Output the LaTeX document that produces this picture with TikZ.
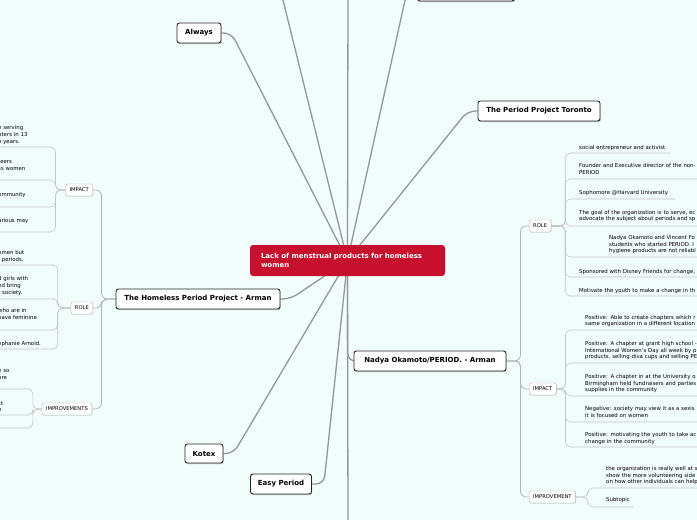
\documentclass[tikz,border=0pt]{standalone}
\usepackage{fontspec}
\setmainfont{DejaVu Sans}
\usetikzlibrary{positioning,shadows,calc}

\definecolor{paper}{RGB}{241,253,251}
\definecolor{topicred}{RGB}{198,16,46}
\definecolor{trunkgray}{RGB}{150,150,150}
\definecolor{branchgray}{RGB}{180,180,180}
\definecolor{twiggray}{RGB}{198,198,198}

\pgfdeclarelayer{bg}
\pgfdeclarelayer{wires}
\pgfsetlayers{bg,wires,main}

\begin{document}
\begin{tikzpicture}[
    x=1pt, y=-1pt,
    central/.style={fill=topicred, rounded corners=3pt, text=white, font=\bfseries\fontsize{7}{9}\selectfont, align=left, text width=173pt, inner xsep=11pt, minimum height=31pt},
    topic/.style={draw=black!85, line width=0.9pt, rounded corners=2.5pt, fill=white, font=\bfseries\fontsize{7}{8.5}\selectfont, minimum height=20pt, inner xsep=6pt, drop shadow={shadow xshift=0.7pt, shadow yshift=-1.2pt, opacity=0.45}},
    group/.style={draw=black!30, fill=white, rounded corners=2pt, font=\fontsize{5.2}{6}\selectfont, inner xsep=4pt, inner ysep=0pt, minimum height=12pt, drop shadow={shadow xshift=0.5pt, shadow yshift=-0.8pt, opacity=0.2}},
    leaf/.style={font=\fontsize{5.4}{6.8}\selectfont, align=left, inner xsep=0pt, inner ysep=2.2pt, anchor=south west},
    lift/.style={inner ysep=#1},
    trunk/.style={draw=trunkgray, line width=1.3pt, rounded corners=8pt},
    branch/.style={draw=branchgray, line width=0.8pt, rounded corners=6pt},
    twig/.style={draw=twiggray, line width=0.6pt, rounded corners=5pt}
]

\useasboundingbox (0,0) rectangle (697,520);
\begin{pgfonlayer}{bg}
\fill[paper] (0,0) rectangle (697,520);
\end{pgfonlayer}

\node[central] (lack) at (347.5,260.5) {Lack of menstrual products for homeless\\women};

\node[topic, minimum width=44pt] (always) at (199,33) {Always};
\node[topic, minimum width=97pt] (upright) at (466,-9) {};
\node[topic, minimum width=122pt] (toronto) at (539,111) {The Period Project Toronto};
\node[topic, minimum width=164pt] (homeless) at (198,299) {The Homeless Period Project - Arman};
\node[topic, minimum width=152pt] (nadya) at (430,361) {Nadya Okamoto/PERIOD. - Arman};
\node[topic, minimum width=38pt, minimum height=19pt] (kotex) at (204,453.5) {Kotex};
\node[topic, minimum width=61pt] (easy) at (281,484) {Easy Period};
\coordinate (upleft) at (280,-12);
\coordinate (upmid) at (348,-12);
\coordinate (downmid) at (348,532);

\node[group, anchor=east] (impactL) at (93,190) {IMPACT};
\node[group, anchor=east] (roleL) at (93,308) {ROLE};
\node[group, anchor=east] (improveL) at (92,409) {IMPROVEMENTS};
\node[group, anchor=west] (roleR) at (529,226) {ROLE};
\node[group, anchor=west] (impactR) at (529,389) {IMPACT};
\node[group, anchor=west] (improveR) at (529,497) {IMPROVEMENT};

\node[leaf, text width=47pt] (impact1) at (-2,147) {e serving\\pters in 13\\o years.};
\node[leaf, text width=47pt, lift=9pt] (impact2) at (-2,180) {teers\\ss women};
\node[leaf, text width=47pt, lift=9.5pt] (impact3) at (-2,207) {ommunity};
\node[leaf, text width=47pt, lift=8.5pt] (impact4) at (-2,232) {arious may};

\node[leaf, text width=51pt] (role1) at (-2,265) {omen but\\f periods.};
\node[leaf, text width=51pt, lift=3.5pt] (role2) at (-2,299) {d girls with\\nd bring\\r society.};
\node[leaf, text width=51pt, lift=10pt] (role3) at (-2,330) {who are in\\have feminine};
\node[leaf, text width=51pt] (role4) at (-2,349) {ephanie Arnold.};

\node[leaf, text width=26pt, lift=9pt] (improve1) at (-2,389) {e so\\ore};
\node[leaf, text width=26pt, lift=3pt] (improve2) at (-2,415) {ct\\n};
\node[leaf, text width=26pt] (improve3) at (-2,428) {};

\node[leaf, text width=91pt] (roleA) at (579,153) {social entrepreneur and activist};
\node[leaf, text width=130pt, lift=4pt] (roleB) at (579,179) {Founder and Executive director of the non-\\PERIOD};
\node[leaf, text width=96pt, lift=2.8pt] (roleC) at (579,199) {Sophomore @Harvard University};
\node[leaf, text width=130pt, lift=3.8pt] (roleD) at (579,226) {The goal of the organization is to serve, ec\\advocate the subject about periods and sp};
\node[leaf, text width=100pt, lift=2.8pt] (roleE) at (609,257) {Nadya Okamoto and Vincent Fo\\students who started PERIOD. I\\hygiene products are not reliabl};
\node[leaf, text width=130pt] (roleF) at (579,277) {Sponsored with Disney Friends for change,};
\node[leaf, text width=130pt] (roleG) at (579,296) {Motivate the youth to make a change in th};

\node[leaf, text width=130pt, lift=2.8pt] (impactA) at (585,330) {Positive: Able to create chapters which r\\same organization in a different location};
\node[leaf, text width=130pt, lift=2.8pt] (impactB) at (585,363) {Positive: A chapter at grant high school -\\International Women's Day all week by p\\products, selling diva cups and selling PE};
\node[leaf, text width=130pt, lift=2.8pt] (impactC) at (585,396) {Positive: A chapter in at the University o\\Birmingham held fundraisers and parties\\supplies in the community};
\node[leaf, text width=130pt, lift=4pt] (impactD) at (585,422) {Negative: society may view it as a sexis\\it is focused on women};
\node[leaf, text width=130pt] (impactE) at (585,447) {Positive: motivating the youth to take ac\\change in the community};

\node[leaf, text width=100pt, lift=2.8pt] (improveA) at (606,488) {the organization is really well at s\\show the more volunteering side\\on how other individuals can help};
\node[leaf, text width=27pt, lift=3.8pt] (improveB) at (606,507) {Subtopic};

\begin{pgfonlayer}{wires}
\draw[trunk] (always.east) -- ++(10,0) -- (lack.center);
\draw[trunk] (upleft) -- (lack.center);
\draw[trunk] (upmid) -- (lack.center);
\draw[trunk] (upright.west) -- ++(-10,0) -- (lack.center);
\draw[trunk] (toronto.west) -- ++(-10,0) -- (lack.center);
\draw[trunk] (homeless.east) -- ++(10,0) -- (lack.center);
\draw[trunk] (nadya.west) -- ++(-6,0) -- (lack.center);
\draw[trunk] (kotex.east) -- ++(10,0) -- (lack.center);
\draw[trunk] (easy.east) -- ++(12,0) -- (lack.center);
\draw[trunk] (downmid) -- (lack.center);

\draw[branch] (homeless.west) -- ++(-14,0) |- (impactL.east);
\draw[branch] (homeless.west) -- ++(-14,0) |- (roleL.east);
\draw[branch] (homeless.west) -- ++(-14,0) |- (improveL.east);
\draw[branch] (nadya.east) -- ++(14,0) |- (roleR.west);
\draw[branch] (nadya.east) -- ++(14,0) |- (impactR.west);
\draw[branch] (nadya.east) -- ++(14,0) |- (improveR.west);

\draw[twig] (impactL.west) -- ++(-10,0) |- (impact1.south east) -- (impact1.south west);
\draw[twig] (impactL.west) -- ++(-10,0) |- (impact2.south east) -- (impact2.south west);
\draw[twig] (impactL.west) -- ++(-10,0) |- (impact3.south east) -- (impact3.south west);
\draw[twig] (impactL.west) -- ++(-10,0) |- (impact4.south east) -- (impact4.south west);

\draw[twig] (roleL.west) -- ++(-13,0) |- (role1.south east) -- (role1.south west);
\draw[twig] (roleL.west) -- ++(-13,0) |- (role2.south east) -- (role2.south west);
\draw[twig] (roleL.west) -- ++(-13,0) |- (role3.south east) -- (role3.south west);
\draw[twig] (roleL.west) -- ++(-13,0) |- (role4.south east) -- (role4.south west);

\draw[twig] (improveL.west) -- ++(-9,0) |- (improve1.south east) -- (improve1.south west);
\draw[twig] (improveL.west) -- ++(-9,0) |- (improve2.south east) -- (improve2.south west);
\draw[twig] (improveL.west) -- ++(-9,0) |- (improve3.south east) -- (improve3.south west);

\draw[twig] (roleR.east) -- ++(14,0) |- (roleA.south west) -- (roleA.south east);
\draw[twig] (roleR.east) -- ++(14,0) |- (roleB.south west) -- (roleB.south east);
\draw[twig] (roleR.east) -- ++(14,0) |- (roleC.south west) -- (roleC.south east);
\draw[twig] (roleR.east) -- ++(14,0) |- (roleD.south west) -- (roleD.south east);
\draw[twig] (roleR.east) -- ++(14,0) |- (roleE.south west) -- (roleE.south east);
\draw[twig] (roleR.east) -- ++(14,0) |- (roleF.south west) -- (roleF.south east);
\draw[twig] (roleR.east) -- ++(14,0) |- (roleG.south west) -- (roleG.south east);

\draw[twig] (impactR.east) -- ++(9,0) |- (impactA.south west) -- (impactA.south east);
\draw[twig] (impactR.east) -- ++(9,0) |- (impactB.south west) -- (impactB.south east);
\draw[twig] (impactR.east) -- ++(9,0) |- (impactC.south west) -- (impactC.south east);
\draw[twig] (impactR.east) -- ++(9,0) |- (impactD.south west) -- (impactD.south east);
\draw[twig] (impactR.east) -- ++(9,0) |- (impactE.south west) -- (impactE.south east);

\draw[twig] (improveR.east) -- ++(12,0) |- (improveA.south west) -- (improveA.south east);
\draw[twig] (improveR.east) -- ++(12,0) |- (improveB.south west) -- (improveB.south east);
\end{pgfonlayer}

\end{tikzpicture}
\end{document}
